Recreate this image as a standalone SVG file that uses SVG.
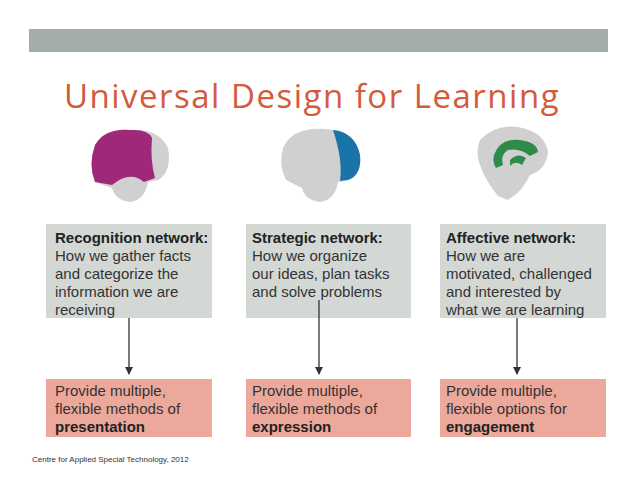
<svg xmlns="http://www.w3.org/2000/svg" width="638" height="493" viewBox="0 0 638 493">
<style>
.t{font-family:"Liberation Sans",Arial,sans-serif;font-size:15px;fill:#333}
.b{font-weight:bold;fill:#222}
.g{fill:#d3d8d5}
.p{fill:#eca89b}
.br{fill:#d0d0d0}
.c{stroke:#333;stroke-width:1.3;fill:none}
</style>
<defs><marker id="a" markerWidth="8" markerHeight="8" refX="7" refY="4" orient="auto" markerUnits="userSpaceOnUse"><path d="M0,0 L8,4 L0,8 z" fill="#333"/></marker></defs>
<rect x="29" y="29" width="579" height="23" fill="#a3aea8"/>
<text x="312" y="108" text-anchor="middle" font-family="Open Sans, sans-serif" font-size="33" letter-spacing="1.5" fill="#d45a3c">Universal Design for Learning</text>
<g id="brain1">
<path d="M95,145 Q105,128 130,130 Q158,128 168,148 Q172,172 158,180 L148,182 Q145,200 130,202 Q115,200 112,188 L95,182 Q88,165 95,145 z" class="br"/>
<path d="M95,145 Q105,128 130,130 Q148,129 152,138 Q150,160 155,178 L144,182 Q130,170 112,185 L95,182 Q88,165 95,145 z" fill="#a0287a"/>
</g>
<g id="brain2">
<path d="M283,148 Q292,127 325,129 Q355,130 360,155 Q362,175 348,180 L338,182 Q335,200 320,202 Q305,200 302,188 L286,180 Q278,165 283,148 z" class="br"/>
<path d="M333,130 Q355,132 360,155 Q362,175 348,180 L340,181 Q343,160 333,130 z" fill="#1a74a8"/>
</g>
<g id="brain3">
<path d="M480,140 Q495,124 518,127 Q545,132 548,152 Q546,170 530,175 Q522,192 508,200 L498,196 Q485,180 480,165 Q475,152 480,140 z" class="br"/>
<path d="M494,155 Q500,138 520,140 Q537,142 538,152 L530,156 Q520,148 508,150 Q500,155 503,165 L496,168 Q492,162 494,155 z M510,160 Q518,152 526,158 L522,165 Q515,160 510,166 z" fill="#2e8c48"/>
</g>
<g id="box1"><rect x="46" y="224" width="166" height="94" class="g"/>
<text class="t" x="55" y="243"><tspan class="b">Recognition network:</tspan><tspan x="55" dy="18">How we gather facts</tspan><tspan x="55" dy="18">and categorize the</tspan><tspan x="55" dy="18">information we are</tspan><tspan x="55" dy="18">receiving</tspan></text></g>
<g id="box2"><rect x="246" y="224" width="165" height="94" class="g"/>
<text class="t" x="252" y="243"><tspan class="b">Strategic network:</tspan><tspan x="252" dy="18">How we organize</tspan><tspan x="252" dy="18">our ideas, plan tasks</tspan><tspan x="252" dy="18">and solve problems</tspan></text></g>
<g id="box3"><rect x="440" y="224" width="166" height="94" class="g"/>
<text class="t" x="446" y="243"><tspan class="b">Affective network:</tspan><tspan x="446" dy="18">How we are</tspan><tspan x="446" dy="18">motivated, challenged</tspan><tspan x="446" dy="18">and interested by</tspan><tspan x="446" dy="18">what we are learning</tspan></text></g>
<g id="box4"><rect x="46" y="379" width="166" height="58" class="p"/>
<text class="t" x="55" y="396"><tspan>Provide multiple,</tspan><tspan x="55" dy="18">flexible methods of</tspan><tspan x="55" dy="18" class="b">presentation</tspan></text></g>
<g id="box5"><rect x="246" y="379" width="165" height="58" class="p"/>
<text class="t" x="252" y="396"><tspan>Provide multiple,</tspan><tspan x="252" dy="18">flexible methods of</tspan><tspan x="252" dy="18" class="b">expression</tspan></text></g>
<g id="box6"><rect x="440" y="379" width="166" height="58" class="p"/>
<text class="t" x="446" y="396"><tspan>Provide multiple,</tspan><tspan x="446" dy="18">flexible options for</tspan><tspan x="446" dy="18" class="b">engagement</tspan></text></g>
<g id="connectors">
<line x1="129" y1="318" x2="129" y2="374" class="c" marker-end="url(#a)"/>
<line x1="319" y1="300" x2="319" y2="374" class="c" marker-end="url(#a)"/>
<line x1="517" y1="318" x2="517" y2="374" class="c" marker-end="url(#a)"/>
</g>
<text x="32" y="462" font-family="Liberation Sans, Arial, sans-serif" font-size="8" fill="#333">Centre for Applied Special Technology, 2012</text>
</svg>
